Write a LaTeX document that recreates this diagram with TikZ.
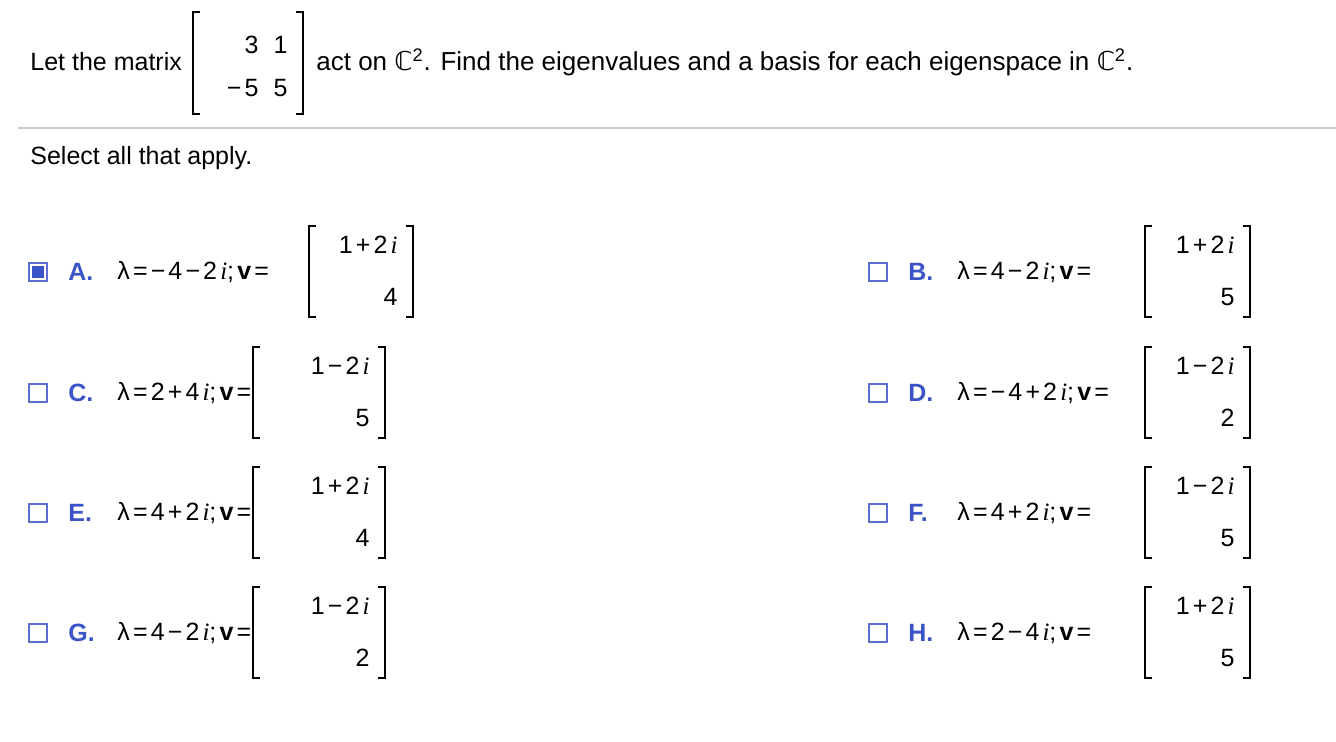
\documentclass[tikz,border=0pt]{standalone}
\usepackage{fontspec}
\setmainfont{Liberation Sans}
\newfontfamily\tight[WordSpace=0.45]{Liberation Sans}
\newfontfamily\serifit{Liberation Serif}
\newfontfamily\dvs{DejaVu Sans}
\definecolor{qblue}{HTML}{3B55C8}
\definecolor{boxblue}{HTML}{5A6FD0}
\begin{document}
\begin{tikzpicture}[x=0.5pt,y=-0.5pt,
  txt/.style={font=\fontsize{12.5}{14}\selectfont,inner sep=0pt,anchor=west},
  opttxt/.style={font=\fontsize{12.5}{14}\selectfont\tight,inner sep=0pt,anchor=west},
  ent/.style={font=\fontsize{12.5}{14}\selectfont\tight,inner sep=0pt,anchor=east},
  lab/.style={font=\fontsize{12.5}{14}\selectfont\bfseries,text=qblue,inner sep=0pt,anchor=west},
  cbox/.style={draw=boxblue,line width=0.9pt,minimum size=9pt,inner sep=0pt,fill=white},
  brk/.style={line width=0.7pt}]
\useasboundingbox (0,0) rectangle (1336,742);
\newcommand{\ii}{{\serifit\itshape i}}
\newcommand{\CC}{{\dvs ℂ}}
\newcommand{\brk}[4]{% left right top bottom
  \draw[brk] (#1+7,#3) -- (#1,#3) -- (#1,#4) -- (#1+7,#4);
  \draw[brk] (#2-7,#3) -- (#2,#3) -- (#2,#4) -- (#2-7,#4);}
% header
\node[txt] (let) at (30,62) {Let the matrix};
\brk{193}{303}{12}{114}
\node[ent] (m11) at (259,45) {3};
\node[ent] (m12) at (288,45) {1};
\node[ent] (m21) at (259,88) {− 5};
\node[ent] (m22) at (288,88) {5};
\node[txt,font=\fontsize{13}{15}\selectfont] (act) at (316,62) {act on \CC\textsuperscript{2}. Find the eigenvalues and a basis for each eigenspace in \CC\textsuperscript{2}.};
\draw[draw=gray!40,line width=0.8pt] (18,128) -- (1336,128);
\node[txt] (sel) at (30,158) {Select all that apply.};
% options
\newcommand{\opt}[9]{%
  \node[cbox] (#1box) at (#2,#3) {};
  \node[lab] (#1lab) at (#2+30,#3) {#4.};
  \node[opttxt] (#1lam) at (#2+79,#3) {#5};
  \node[ent] (#1top) at (#9-15,#3-27) {#6};
  \node[ent] (#1bot) at (#9-15,#3+25) {#7};
  \brk{#8}{#9}{#3-46}{#3+45}}
\opt{a}{38}{272}{A}{λ = − 4 − 2 \ii; \textbf{v} =}{1 + 2 \ii}{4}{309}{413}
\fill[qblue] (32,266) rectangle (44,278);
\opt{b}{878}{272}{B}{λ = 4 − 2 \ii; \textbf{v} =}{1 + 2 \ii}{5}{1145}{1250}
\opt{c}{38}{393}{C}{λ = 2 + 4 \ii; \textbf{v} =}{1 − 2 \ii}{5}{253}{385}
\opt{d}{878}{393}{D}{λ = − 4 + 2 \ii; \textbf{v} =}{1 − 2 \ii}{2}{1145}{1250}
\opt{e}{38}{513}{E}{λ = 4 + 2 \ii; \textbf{v} =}{1 + 2 \ii}{4}{253}{385}
\opt{f}{878}{513}{F}{λ = 4 + 2 \ii; \textbf{v} =}{1 − 2 \ii}{5}{1145}{1250}
\opt{g}{38}{633}{G}{λ = 4 − 2 \ii; \textbf{v} =}{1 − 2 \ii}{2}{253}{385}
\opt{h}{878}{633}{H}{λ = 2 − 4 \ii; \textbf{v} =}{1 + 2 \ii}{5}{1145}{1250}
\end{tikzpicture}
\end{document}
